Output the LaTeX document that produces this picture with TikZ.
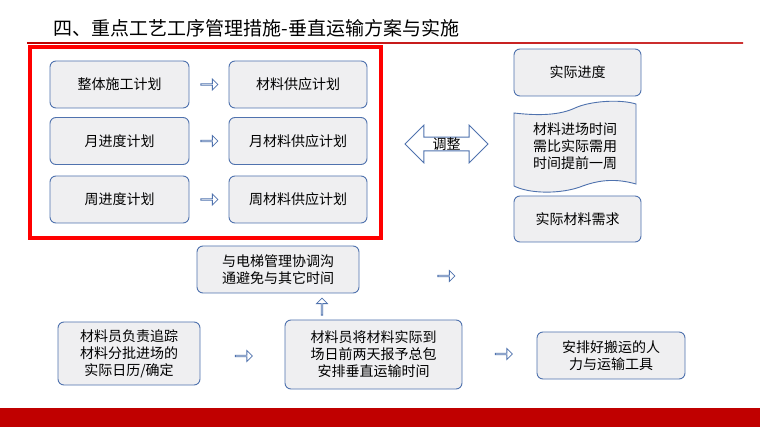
\documentclass[tikz,border=0pt]{standalone}
\usepackage{fontspec}
\setmainfont{Noto Sans CJK SC}
\usetikzlibrary{shapes.arrows,calc}
\definecolor{bx}{HTML}{EFEFF1}
\definecolor{bd}{HTML}{4F72AE}
\definecolor{rd}{HTML}{C00000}
\tikzset{
 box/.style={draw=bd,fill=bx,rounded corners=6pt,line width=0.9pt,align=center,font=\fontsize{14}{17}\selectfont,inner sep=0pt},
 barr/.style={single arrow,draw=bd,fill=white,line width=0.8pt,minimum height=17pt,minimum width=11pt,single arrow head extend=2.5pt,inner sep=0pt}
}
\begin{document}
\begin{tikzpicture}[x=1pt,y=-1pt]
\useasboundingbox (0,0) rectangle (760,427);
\fill[white] (0,0) rectangle (760,427);
\node[anchor=west,font=\fontsize{19}{22}\selectfont] (title) at (50,28) {四、重点工艺工序管理措施-垂直运输方案与实施};
\shade[left color=rd,right color=rd!80] (27,42.3) rectangle (743,43.5);
\fill[rd] (0,408) rectangle (760,427);
\draw[red,line width=4pt] (30,47) rectangle (381,238);
% left
\node[box,minimum width=139pt,minimum height=47pt] (a1) at (119.5,84.5) {整体施工计划};
\node[box,minimum width=139pt,minimum height=47pt] (a2) at (119.5,141) {月进度计划};
\node[box,minimum width=139pt,minimum height=47pt] (a3) at (119.5,199.5) {周进度计划};
\node[box,minimum width=138pt,minimum height=47pt] (b1) at (298,84.5) {材料供应计划};
\node[box,minimum width=138pt,minimum height=47pt] (b2) at (298,141) {月材料供应计划};
\node[box,minimum width=138pt,minimum height=47pt] (b3) at (298,199.5) {周材料供应计划};
\node[barr] (r1) at ($(a1.east)!0.5!(b1.west)$) {};
\node[barr] (r2) at ($(a2.east)!0.5!(b2.west)$) {};
\node[barr] (r3) at ($(a3.east)!0.5!(b3.west)$) {};
% right
\node[box,minimum width=127pt,minimum height=47pt] (c1) at (577.5,72.5) {实际进度};
\node[box,minimum width=127pt,minimum height=46pt] (c3) at (577.5,219) {实际材料需求};
\draw[draw=bd,fill=bx,line width=0.9pt] (514,113) .. controls (540,116) and (560,115) .. (575,108) .. controls (590,101) and (620,99) .. (636,104)
 -- (636,184) .. controls (615,178) and (598,180) .. (580,187) .. controls (560,194) and (530,194) .. (514,186) -- cycle;
\node[align=center,font=\fontsize{14}{17}\selectfont] (c2) at (575,146) {材料进场时间\\需比实际需用\\时间提前一周};
\node[double arrow,draw=bd,fill=white,line width=0.9pt,minimum height=83pt,minimum width=29pt,double arrow head extend=12pt,double arrow tip angle=90,inner sep=0pt,font=\fontsize{14}{17}\selectfont] (adj) at (446.5,144) {调整};
% bottom
\node[box,minimum width=162pt,minimum height=47pt] (d1) at (278,269.5) {与电梯管理协调沟\\通避免与其它时间};
\node[box,minimum width=142pt,minimum height=63pt] (e1) at (129,353.5) {材料员负责追踪\\材料分批进场的\\实际日历/确定};
\node[box,minimum width=177pt,minimum height=69pt] (e2) at (373.5,354.5) {材料员将材料实际到\\场日前两天报予总包\\安排垂直运输时间};
\node[box,minimum width=148pt,minimum height=47pt] (e3) at (611,355.5) {安排好搬运的人\\力与运输工具};
\node[barr] (s1) at (243.5,356) {};
\node[barr] (s2) at (503.5,354) {};
\node[barr] (s3) at (446,276) {};
\node[barr,rotate=90] (s4) at (322,307) {};
\end{tikzpicture}
\end{document}
